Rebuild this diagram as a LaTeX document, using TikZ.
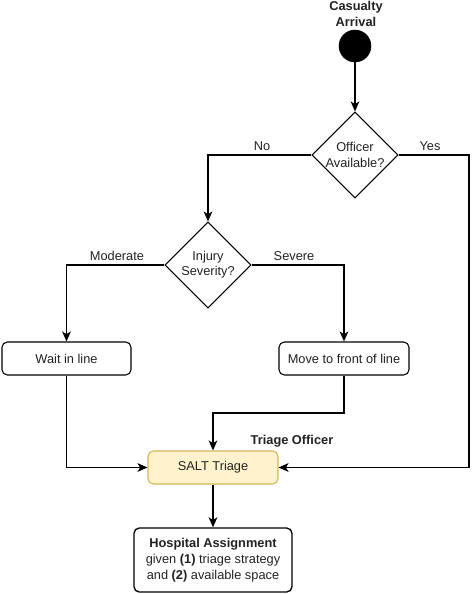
\documentclass[tikz,border=0pt]{standalone}
\usepackage{fontspec}
\setmainfont{Liberation Sans}
\usetikzlibrary{shapes.geometric,arrows.meta}
\definecolor{txt}{HTML}{222222}
\definecolor{saltfill}{HTML}{FFF2CC}
\definecolor{saltdraw}{HTML}{D6B656}
\tikzset{
  px/.style={x=0.75pt,y=-0.75pt},
  box/.style={draw, rounded corners=4pt, line width=0.8pt, text=txt, font=\fontsize{9.6}{11.5}\selectfont, inner sep=0pt, align=center},
  dia/.style={draw, diamond, aspect=1, line width=0.8pt, text=txt, font=\fontsize{9.6}{11.5}\selectfont, inner sep=-1pt, align=center, minimum width=64.5pt, minimum height=64.5pt},
  lbl/.style={text=txt, font=\fontsize{9.6}{11.5}\selectfont, inner sep=0pt},
  conn/.style={draw, line width=1pt, -{Stealth[length=7.5pt,width=6.5pt,inset=2pt]}},
}
\begin{document}
\begin{tikzpicture}[px]
\useasboundingbox (0,0) rectangle (474,594);
\node[lbl, font=\bfseries\fontsize{9.6}{12.5}\selectfont, align=center] (title) at (356,14) {Casualty\\Arrival};
\node[circle, fill=black, draw=black, minimum size=24pt, inner sep=0pt] (start) at (355,46) {};
\node[dia] (officer) at (355,155) {Officer\\Available?};
\node[dia] (injury) at (208,265) {Injury\\Severity?};
\node[box, minimum width=96.75pt, minimum height=24.75pt] (wait) at (66.5,358.5) {Wait in line};
\node[box, minimum width=97.5pt, minimum height=24.75pt] (move) at (344,358.5) {Move to front of line};
\node[box, fill=saltfill, draw=saltdraw, minimum width=97.5pt, minimum height=24.75pt] (salt) at (213,467.5) {SALT Triage};
\node[box, line width=1pt, minimum width=118.5pt, minimum height=48pt, font=\fontsize{9.6}{11.8}\selectfont] (hosp) at (213,560) {\textbf{Hospital Assignment}\\given \textbf{(1)} triage strategy\\and \textbf{(2)} available space};
\node[lbl] (no) at (262,146) {No};
\node[lbl] (yes) at (430,146) {Yes};
\node[lbl] (moderate) at (117,256) {Moderate};
\node[lbl] (severe) at (294,256) {Severe};
\node[lbl, font=\bfseries\fontsize{9.6}{11.5}\selectfont] (trofficer) at (292,441) {Triage Officer};
\draw[conn] (start) -- (officer);
\draw[conn] (officer.west) -| (injury.north);
\draw[conn] (officer.east) -- (469,155) |- (salt.east);
\draw[conn] (injury.west) -| (wait.north);
\draw[conn] (injury.east) -| (move.north);
\draw[conn] (wait.south) |- (salt.west);
\draw[conn] (move.south) -- (344,413) -| (salt.north);
\draw[conn] (salt) -- (hosp);
\end{tikzpicture}
\end{document}
